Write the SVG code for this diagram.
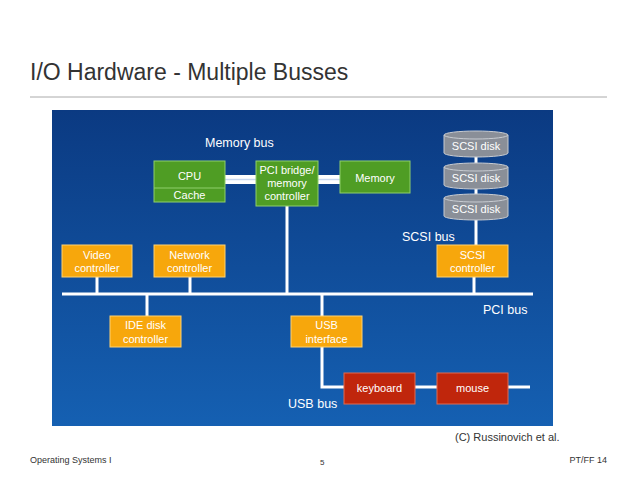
<svg xmlns="http://www.w3.org/2000/svg" width="638" height="479" viewBox="0 0 638 479">
<defs>
<linearGradient id="bg" x1="0" y1="0" x2="0" y2="1"><stop offset="0" stop-color="#0b3a82"/><stop offset="1" stop-color="#1560b2"/></linearGradient>
<style>
.t{font-family:"Liberation Sans",Arial,sans-serif;fill:#fff;text-anchor:middle;font-size:11px}
.lb{font-family:"Liberation Sans",Arial,sans-serif;fill:#fff;font-size:12.5px}
.g{fill:#4f9d24;stroke:#8fcf6a;stroke-width:1}
.o{fill:#f7a70c;stroke:#ffd270;stroke-width:1}
.r{fill:#c0260c;stroke:#e06a50;stroke-width:1}
.d{fill:#8a8f98;stroke:#c8ccd2;stroke-width:1}
.w{stroke:#fff;stroke-width:3;fill:none}
.f{font-family:"Liberation Sans",Arial,sans-serif;fill:#333}
</style>
</defs>
<rect width="638" height="479" fill="#fff"/>
<text x="30" y="80" class="f" font-size="23">I/O Hardware  - Multiple Busses</text>
<line x1="30" y1="97" x2="607" y2="97" stroke="#aaa" stroke-width="1"/>
<rect x="52" y="110" width="501" height="316" fill="url(#bg)"/>
<g id="connectors">
<rect x="225" y="175" width="31" height="9" fill="#fff"/><line x1="225" y1="179.5" x2="256" y2="179.5" stroke="#c8d8f0" stroke-width="1.5"/>
<rect x="318" y="175" width="22" height="9" fill="#fff"/><line x1="318" y1="179.5" x2="340" y2="179.5" stroke="#c8d8f0" stroke-width="1.5"/>
<line class="w" x1="62" y1="294" x2="533" y2="294"/>
<line class="w" x1="97" y1="277" x2="97" y2="294"/>
<line class="w" x1="190" y1="277" x2="190" y2="294"/>
<line class="w" x1="287" y1="206" x2="287" y2="294"/>
<line class="w" x1="474" y1="277" x2="474" y2="294"/>
<line class="w" x1="147" y1="294" x2="147" y2="316"/>
<line class="w" x1="322" y1="294" x2="322" y2="316"/>
<polyline class="w" points="322,347 322,387 344,387"/>
<line class="w" x1="415" y1="387" x2="437" y2="387"/>
<line class="w" x1="508" y1="387" x2="530" y2="387"/>
<line class="w" x1="476" y1="157" x2="476" y2="245"/>
</g>
<g id="cpu"><rect class="g" x="154" y="161" width="71" height="41"/><line x1="154" y1="188" x2="225" y2="188" stroke="#8fcf6a"/><text class="t" x="189.5" y="180" font-size="13">CPU</text><text class="t" x="189.5" y="199" font-size="10">Cache</text></g>
<g id="pcibridge"><rect class="g" x="256" y="161" width="62" height="45"/><text class="t" x="287" y="174" font-size="10">PCI bridge/</text><text class="t" x="287" y="187" font-size="10">memory</text><text class="t" x="287" y="200" font-size="10">controller</text></g>
<g id="memory"><rect class="g" x="340" y="161" width="70" height="32"/><text class="t" x="375" y="182">Memory</text></g>
<g id="disk1"><path class="d" d="M444,135 v18 a32,4 0 0 0 64,0 v-18 a32,4 0 0 0 -64,0 a32,4 0 0 0 64,0"/><text class="t" x="476" y="150" font-size="10">SCSI disk</text></g>
<g id="disk2"><path class="d" d="M444,167 v18 a32,4 0 0 0 64,0 v-18 a32,4 0 0 0 -64,0 a32,4 0 0 0 64,0"/><text class="t" x="476" y="182" font-size="10">SCSI disk</text></g>
<g id="disk3"><path class="d" d="M444,198 v18 a32,4 0 0 0 64,0 v-18 a32,4 0 0 0 -64,0 a32,4 0 0 0 64,0"/><text class="t" x="476" y="213" font-size="10">SCSI disk</text></g>
<g id="video"><rect class="o" x="62" y="245" width="70" height="32"/><text class="t" x="97" y="259">Video</text><text class="t" x="97" y="272">controller</text></g>
<g id="network"><rect class="o" x="154" y="245" width="71" height="32"/><text class="t" x="189.5" y="259">Network</text><text class="t" x="189.5" y="272">controller</text></g>
<g id="scsi"><rect class="o" x="437" y="245" width="71" height="32"/><text class="t" x="472.5" y="259">SCSI</text><text class="t" x="472.5" y="272">controller</text></g>
<g id="ide"><rect class="o" x="110" y="316" width="71" height="31"/><text class="t" x="145.5" y="329">IDE disk</text><text class="t" x="145.5" y="343">controller</text></g>
<g id="usb"><rect class="o" x="291" y="316" width="71" height="31"/><text class="t" x="326.5" y="329">USB</text><text class="t" x="326.5" y="343">interface</text></g>
<g id="keyboard"><rect class="r" x="344" y="373" width="71" height="31"/><text class="t" x="379.5" y="392">keyboard</text></g>
<g id="mouse"><rect class="r" x="437" y="373" width="71" height="31"/><text class="t" x="472.5" y="392">mouse</text></g>
<text class="lb" x="205" y="147">Memory bus</text>
<text class="lb" x="402" y="241">SCSI bus</text>
<text class="lb" x="483" y="314">PCI bus</text>
<text class="lb" x="288" y="408">USB bus</text>
<text x="455" y="441" class="f" font-size="11">(C) Russinovich et al.</text>
<text x="30" y="463" class="f" font-size="9">Operating Systems I</text>
<text x="320" y="465" class="f" font-size="8">5</text>
<text x="607" y="463" class="f" font-size="9" text-anchor="end">PT/FF 14</text>
</svg>
